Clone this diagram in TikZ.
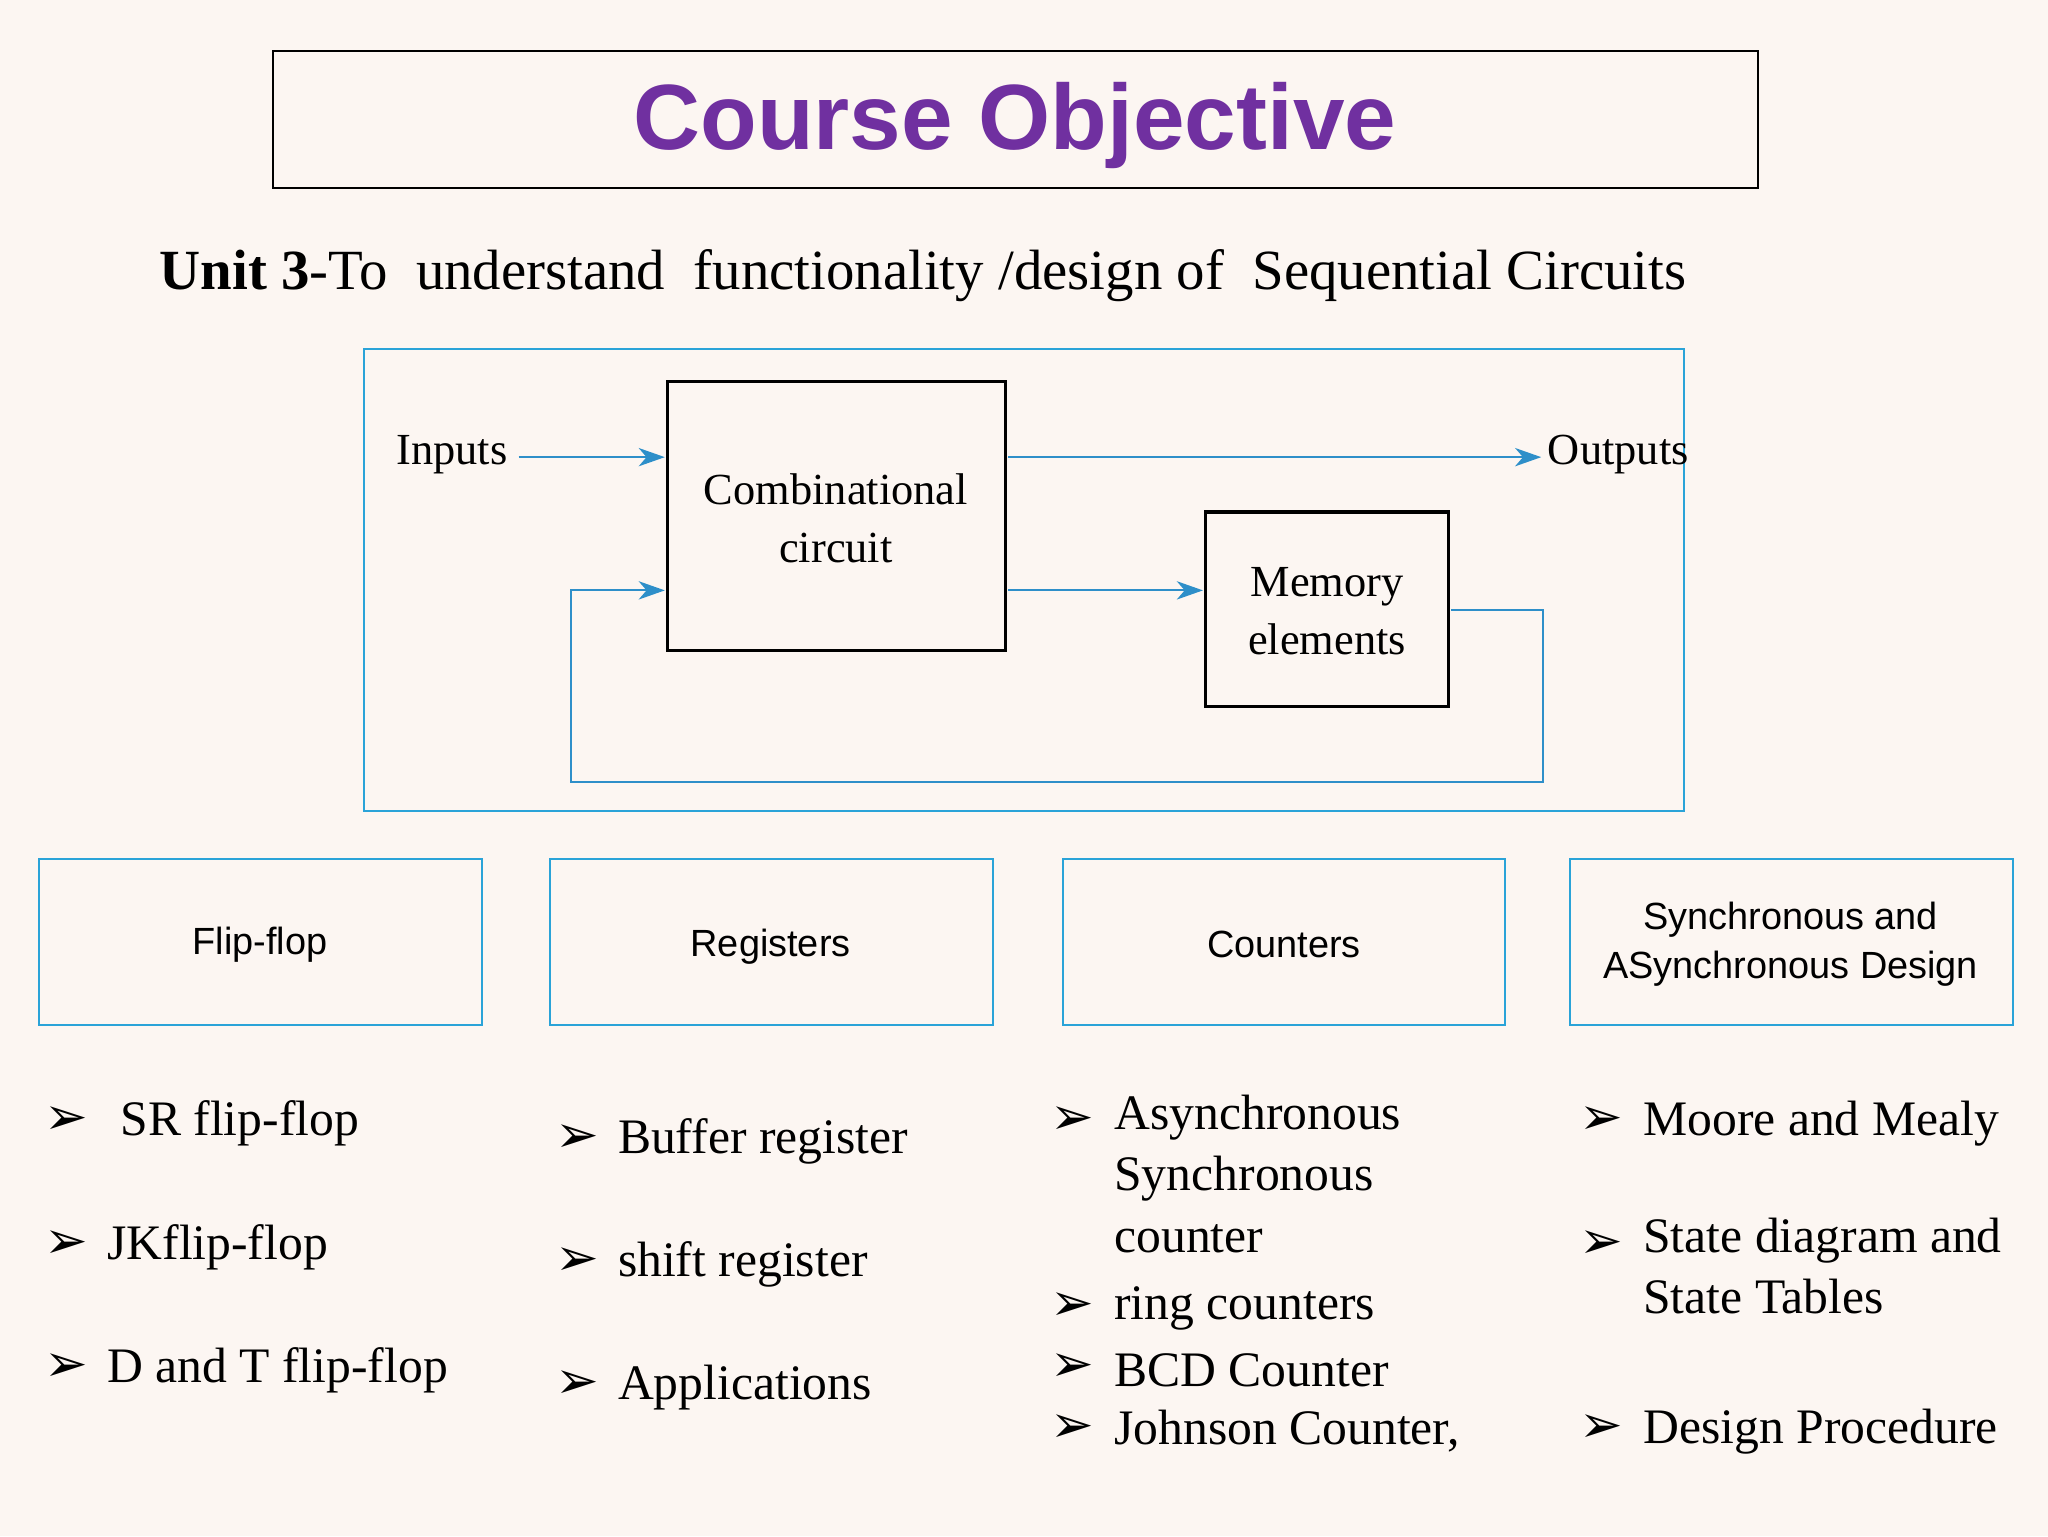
\documentclass[tikz,border=0pt]{standalone}
\usepackage{fontspec}
\setmainfont{Liberation Serif}
\newfontfamily\sans{Liberation Sans}
\newfontfamily\dv{DejaVu Sans}
\usetikzlibrary{arrows.meta}
\definecolor{bg}{HTML}{FCF6F2}
\definecolor{cy}{HTML}{2AA3D8}
\definecolor{pur}{HTML}{7030A0}
\definecolor{ln}{HTML}{2E8FC9}
\begin{document}
\begin{tikzpicture}[x=1pt,y=-1pt,
 blk/.style={draw=black,line width=2.5pt},
 cbox/.style={draw=cy,line width=1.6pt},
 dtxt/.style={font=\fontsize{34}{44}\selectfont,align=center,inner sep=0},
 sb/.style={font=\sans\fontsize{29}{37}\selectfont,align=center},
 bt/.style={font=\fontsize{38}{47}\selectfont,anchor=west,inner sep=0,align=left},
 ar/.style={font=\dv\fontsize{40}{40}\selectfont,anchor=west,inner sep=0},
 fl/.style={draw=ln,line width=1.6pt},
 fa/.style={fl,-{Stealth[length=20pt,width=14pt,inset=6pt]}}]
\fill[bg] (0,0) rectangle (1568,1176);
\useasboundingbox (0,0) rectangle (1568,1176);
\draw[line width=1.2pt] (209,39) rectangle (1346,144);
\node[font=\sans\bfseries\fontsize{71}{80}\selectfont,text=pur] (title) at (777,96) {Course Objective};
\node[font=\fontsize{43.5}{48}\selectfont,anchor=west,inner sep=0] (sub) at (122,211) {\textbf{Unit 3}-To\ \ understand\ \ functionality /design of\ \ Sequential Circuits};
\draw[cbox] (279,267) rectangle (1289,621);
\draw[blk] (511,292) rectangle (770,498);
\node[dtxt] (comb) at (640,397) {Combinational\\circuit};
\draw[blk] (923,392) rectangle (1109,541);
\node[dtxt] (mem) at (1016,468) {Memory\\elements};
\node[dtxt] (in) at (346,348) {Inputs};
\node[dtxt] (out) at (1239,348) {Outputs};
\coordinate (a1) at (397,350); \coordinate (a2) at (509,350);
\coordinate (b1) at (772,350); \coordinate (b2) at (1180,350);
\coordinate (c1) at (772,452); \coordinate (c2) at (921,452);
\coordinate (m1) at (1111,467); \coordinate (m2) at (1181,467);
\coordinate (m3) at (1181,599); \coordinate (m4) at (437,599);
\coordinate (m5) at (437,452); \coordinate (m6) at (509,452);
\draw[fa] (a1) -- (a2);
\draw[fa] (b1) -- (b2);
\draw[fa] (c1) -- (c2);
\draw[fa] (m1) -- (m2) -- (m3) -- (m4) -- (m5) -- (m6);
\draw[cbox] (30,658) rectangle (369,785);
\node[sb] (f) at (199,723) {Flip-flop};
\draw[cbox] (421,658) rectangle (760,785);
\node[sb] (r) at (590,725) {Registers};
\draw[cbox] (814,658) rectangle (1152,785);
\node[sb] (c) at (983,723) {Counters};
\draw[cbox] (1202,658) rectangle (1541,785);
\node[sb] (s) at (1371,723) {Synchronous and\\ASynchronous Design};
% col1
\node[ar] (p1) at (34,858) {➢}; \node[bt] (t1) at (92,860) {SR flip-flop};
\node[ar] (p2) at (34,953) {➢}; \node[bt] (t2) at (82,955) {JKflip-flop};
\node[ar] (p3) at (34,1047) {➢}; \node[bt] (t3) at (82,1049) {D and T flip-flop};
% col2
\node[ar] (q1) at (425,872) {➢}; \node[bt] (u1) at (473,874) {Buffer register};
\node[ar] (q2) at (425,966) {➢}; \node[bt] (u2) at (473,968) {shift register};
\node[ar] (q3) at (425,1060) {➢}; \node[bt] (u3) at (473,1062) {Applications};
% col3
\node[ar] (r1) at (804,858) {➢}; \node[bt,anchor=north west] (v1) at (853,838) {Asynchronous\\Synchronous\\counter};
\node[ar] (r2) at (804,1000) {➢}; \node[bt] (v2) at (853,1002) {ring counters};
\node[ar] (r3) at (804,1047) {➢}; \node[bt] (v3) at (853,1049) {BCD Counter};
\node[ar] (r4) at (804,1094) {➢}; \node[bt] (v4) at (853,1096) {Johnson Counter,};
% col4
\node[ar] (s1) at (1209,858) {➢}; \node[bt] (w1) at (1258,860) {Moore and Mealy};
\node[ar] (s2) at (1209,953) {➢}; \node[bt,anchor=north west] (w2) at (1258,932) {State diagram and\\State Tables};
\node[ar] (s3) at (1209,1094) {➢}; \node[bt] (w3) at (1258,1096) {Design Procedure};
\end{tikzpicture}
\end{document}
